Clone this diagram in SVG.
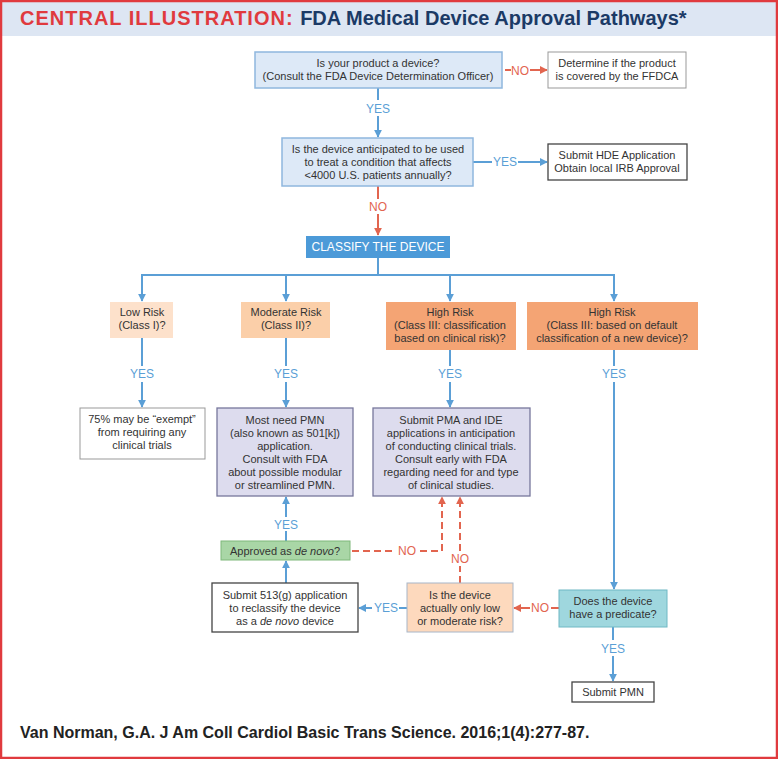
<svg xmlns="http://www.w3.org/2000/svg" width="778" height="759" viewBox="0 0 778 759">
<defs>
<marker id="ab" viewBox="0 0 10 10" refX="9" refY="5" markerWidth="8" markerHeight="8" markerUnits="userSpaceOnUse" orient="auto"><path d="M0,0L10,5L0,10z" fill="#5b9fd6"/></marker>
<marker id="ar" viewBox="0 0 10 10" refX="9" refY="5" markerWidth="8" markerHeight="8" markerUnits="userSpaceOnUse" orient="auto"><path d="M0,0L10,5L0,10z" fill="#e2654f"/></marker>
</defs>
<style>
text{font-family:"Liberation Sans",Arial,sans-serif;font-size:11px;fill:#333;text-anchor:middle}
.b{stroke:#5b9fd6;stroke-width:2;fill:none}
.r{stroke:#e2654f;stroke-width:2;fill:none}
.d{stroke-dasharray:7,4}
.lb{fill:#5b9fd6;font-size:12px}
.lr{fill:#e2654f;font-size:12px}
.q{fill:#dde9f7;stroke:#8fb7de;stroke-width:1.5}
.w{fill:#fff;stroke:#999;stroke-width:1}
.k{fill:#fff;stroke:#444;stroke-width:1.3}
.p{fill:#dddcee;stroke:#77779c;stroke-width:1.3}
</style>
<rect x="0" y="0" width="778" height="759" fill="#fff"/>
<rect x="0" y="0" width="778" height="36" fill="#dde6f3"/>
<rect x="1" y="1" width="776" height="757" fill="none" stroke="#e03a3e" stroke-width="2.5"/>
<text x="20" y="25" style="text-anchor:start;font-size:20px;font-weight:bold;fill:#e03a3e;letter-spacing:1px">CENTRAL ILLUSTRATION: <tspan style="fill:#1b3a66;letter-spacing:0">FDA Medical Device Approval Pathways*</tspan></text>

<g id="connectors">
<line class="b" x1="378" y1="88" x2="378" y2="100"/><line class="b" x1="378" y1="116" x2="378" y2="137" marker-end="url(#ab)"/>
<text class="lb" x="378" y="113">YES</text>
<line class="r" x1="505" y1="70" x2="511" y2="70"/><line class="r" x1="530" y1="70" x2="547" y2="70" marker-end="url(#ar)"/>
<text class="lr" x="520" y="75">NO</text>
<line class="b" x1="473" y1="162" x2="492" y2="162"/><line class="b" x1="518" y1="162" x2="547" y2="162" marker-end="url(#ab)"/>
<text class="lb" x="505" y="166">YES</text>
<line class="r" x1="378" y1="186" x2="378" y2="199"/><line class="r" x1="378" y1="214" x2="378" y2="235" marker-end="url(#ar)"/>
<text class="lr" x="378" y="211">NO</text>
<path class="b" d="M378,258V275M142,301V275H614V301"/>
<line class="b" x1="142" y1="275" x2="142" y2="301" marker-end="url(#ab)"/>
<line class="b" x1="286" y1="275" x2="286" y2="301" marker-end="url(#ab)"/>
<line class="b" x1="450" y1="275" x2="450" y2="301" marker-end="url(#ab)"/>
<line class="b" x1="614" y1="275" x2="614" y2="301" marker-end="url(#ab)"/>
<g>
<line class="b" x1="142" y1="338" x2="142" y2="366"/><line class="b" x1="142" y1="382" x2="142" y2="407" marker-end="url(#ab)"/><text class="lb" x="142" y="378">YES</text>
<line class="b" x1="286" y1="338" x2="286" y2="366"/><line class="b" x1="286" y1="382" x2="286" y2="407" marker-end="url(#ab)"/><text class="lb" x="286" y="378">YES</text>
<line class="b" x1="450" y1="350" x2="450" y2="366"/><line class="b" x1="450" y1="382" x2="450" y2="407" marker-end="url(#ab)"/><text class="lb" x="450" y="378">YES</text>
<line class="b" x1="614" y1="350" x2="614" y2="366"/><line class="b" x1="614" y1="382" x2="614" y2="589" marker-end="url(#ab)"/><text class="lb" x="614" y="378">YES</text>
</g>
<line class="b" x1="286" y1="541" x2="286" y2="531"/><line class="b" x1="286" y1="517" x2="286" y2="497" marker-end="url(#ab)"/>
<text class="lb" x="286" y="529">YES</text>
<line class="b" x1="286" y1="583" x2="286" y2="561" marker-end="url(#ab)"/>
<path class="r d" d="M352,551H394"/><path class="r d" d="M420,551H442V497" marker-end="url(#ar)"/>
<text class="lr" x="407" y="555">NO</text>
<path class="r d" d="M460,583V566"/><path class="r d" d="M460,551V497" marker-end="url(#ar)"/>
<text class="lr" x="460" y="563">NO</text>
<line class="r" x1="559" y1="608" x2="551" y2="608"/><line class="r" x1="530" y1="608" x2="514" y2="608" marker-end="url(#ar)"/>
<text class="lr" x="540" y="612">NO</text>
<line class="b" x1="407" y1="608" x2="399" y2="608"/><line class="b" x1="372" y1="608" x2="359" y2="608" marker-end="url(#ab)"/>
<text class="lb" x="386" y="612">YES</text>
<line class="b" x1="613" y1="627" x2="613" y2="640"/><line class="b" x1="613" y1="656" x2="613" y2="681" marker-end="url(#ab)"/>
<text class="lb" x="613" y="653">YES</text>
</g>

<g id="n1"><rect class="q" x="255" y="52" width="247" height="36"/><text x="378" y="67">Is your product a device?</text><text x="378" y="80">(Consult the FDA Device Determination Officer)</text></g>
<g id="n2"><rect class="w" x="548" y="52" width="138" height="36"/><text x="617" y="67">Determine if the product</text><text x="617" y="80">is covered by the FFDCA</text></g>
<g id="n3"><rect class="q" x="282" y="138" width="191" height="48"/><text x="378" y="153">Is the device anticipated to be used</text><text x="378" y="166">to treat a condition that affects</text><text x="378" y="179">&lt;4000 U.S. patients annually?</text></g>
<g id="n4"><rect class="k" x="548" y="144" width="139" height="36"/><text x="617" y="159">Submit HDE Application</text><text x="617" y="172">Obtain local IRB Approval</text></g>
<g id="n5"><rect x="306" y="236" width="144" height="22" fill="#4c9ad8"/><text x="378" y="251" style="fill:#fff;font-size:12px">CLASSIFY THE DEVICE</text></g>
<g id="n6"><rect x="110" y="302" width="63" height="36" fill="#fde1cb"/><text x="142" y="316">Low Risk</text><text x="142" y="329">(Class I)?</text></g>
<g id="n7"><rect x="241" y="302" width="89" height="36" fill="#fbcfa9"/><text x="286" y="316">Moderate Risk</text><text x="286" y="329">(Class II)?</text></g>
<g id="n8"><rect x="386" y="302" width="130" height="48" fill="#f4a474"/><text x="450" y="316">High Risk</text><text x="450" y="329">(Class III: classification</text><text x="450" y="342">based on clinical risk)?</text></g>
<g id="n9"><rect x="527" y="302" width="171" height="48" fill="#f4a474"/><text x="612" y="316">High Risk</text><text x="612" y="329">(Class III: based on default</text><text x="612" y="342">classification of a new device)?</text></g>
<g id="n10"><rect class="w" x="80" y="408" width="125" height="51"/><text x="142" y="423">75% may be “exempt”</text><text x="142" y="436">from requiring any</text><text x="142" y="449">clinical trials</text></g>
<g id="n11"><rect class="p" x="217" y="408" width="136" height="88"/><text x="285" y="424">Most need PMN</text><text x="285" y="437">(also known as 501[k])</text><text x="285" y="450">application.</text><text x="285" y="463">Consult with FDA</text><text x="285" y="476">about possible modular</text><text x="285" y="489">or streamlined PMN.</text></g>
<g id="n12"><rect class="p" x="373" y="408" width="157" height="88"/><text x="451" y="424">Submit PMA and IDE</text><text x="451" y="437">applications in anticipation</text><text x="451" y="450">of conducting clinical trials.</text><text x="451" y="463">Consult early with FDA</text><text x="451" y="476">regarding need for and type</text><text x="451" y="489">of clinical studies.</text></g>
<g id="n13"><rect x="221" y="541" width="129" height="19" fill="#a9d6a6" stroke="#7fb87b"/><text x="285" y="555">Approved as <tspan font-style="italic">de novo</tspan>?</text></g>
<g id="n14"><rect class="k" x="212" y="583" width="146" height="49"/><text x="285" y="599">Submit 513(g) application</text><text x="285" y="612">to reclassify the device</text><text x="285" y="625">as a <tspan font-style="italic">de novo</tspan> device</text></g>
<g id="n15"><rect x="407" y="583" width="106" height="49" fill="#fdd9bd" stroke="#a8b6c8"/><text x="460" y="599">Is the device</text><text x="460" y="612">actually only low</text><text x="460" y="625">or moderate risk?</text></g>
<g id="n16"><rect x="559" y="590" width="108" height="37" fill="#9fd7de" stroke="#6fb8c4"/><text x="613" y="605">Does the device</text><text x="613" y="618">have a predicate?</text></g>
<g id="n17"><rect class="k" x="572" y="682" width="82" height="20"/><text x="613" y="696">Submit PMN</text></g>
<text x="20" y="738" style="text-anchor:start;font-size:16px;font-weight:bold;fill:#222">Van Norman, G.A. J Am Coll Cardiol Basic Trans Science. 2016;1(4):277-87.</text>
</svg>
